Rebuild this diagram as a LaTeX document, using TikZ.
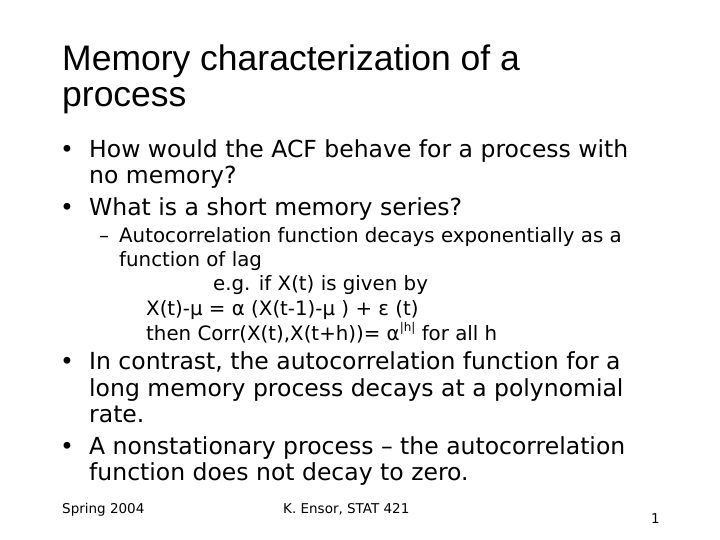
\documentclass[tikz,border=0pt]{standalone}
\usepackage{fontspec}
\setmainfont{DejaVu Sans}
\newfontfamily\titlefont{Liberation Sans}
\begin{document}
\begin{tikzpicture}[x=1pt,y=-1pt,
  t/.style={anchor=base west,inner sep=0pt,font=\fontsize{23.5}{26}\selectfont},
  s/.style={anchor=base west,inner sep=0pt,font=\fontsize{19.8}{22}\selectfont},
  f/.style={anchor=base west,inner sep=0pt,font=\fontsize{13.5}{15}\selectfont}]
\useasboundingbox (0,0) rectangle (720,540);
\node[anchor=base west,inner sep=0pt,font=\titlefont\fontsize{35.5}{40}\selectfont] (t1) at (62,71) {Memory characterization of a};
\node[anchor=base west,inner sep=0pt,font=\titlefont\fontsize{35.5}{40}\selectfont] (t2) at (62,107) {process};
\node[t] (b1) at (60,158) {•};
\node[t] (l1) at (89,158) {How would the ACF behave for a process with};
\node[t] (l2) at (89,184) {no memory?};
\node[t] (b2) at (60,215) {•};
\node[t] (l3) at (89,215) {What is a short memory series?};
\node[s] (d1) at (99,243) {–};
\node[s] (l4) at (119,243) {Autocorrelation function decays exponentially as a};
\node[s] (l5) at (119,266) {function of lag};
\node[s] (l6) at (213,290) {e.g. if X(t) is given by};
\node[s] (l7) at (146,315) {X(t)-μ = α (X(t-1)-μ ) + ε (t)};
\node[s] (l8) at (146,340) {then Corr(X(t),X(t+h))= α\raisebox{0.45em}{\fontsize{12}{14}\selectfont |h|} for all h};
\node[t] (b3) at (60,369) {•};
\node[t] (l9) at (89,369) {In contrast, the autocorrelation function for a};
\node[t] (l10) at (89,396) {long memory process decays at a polynomial};
\node[t] (l11) at (89,422) {rate.};
\node[t] (b4) at (60,454) {•};
\node[t] (l12) at (89,454) {A nonstationary process – the autocorrelation};
\node[t] (l13) at (89,480) {function does not decay to zero.};
\node[f] (ft1) at (62,513) {Spring 2004};
\node[f] (ft2) at (283,513) {K. Ensor, STAT 421};
\node[f] (ft3) at (651,523) {1};
\end{tikzpicture}
\end{document}
